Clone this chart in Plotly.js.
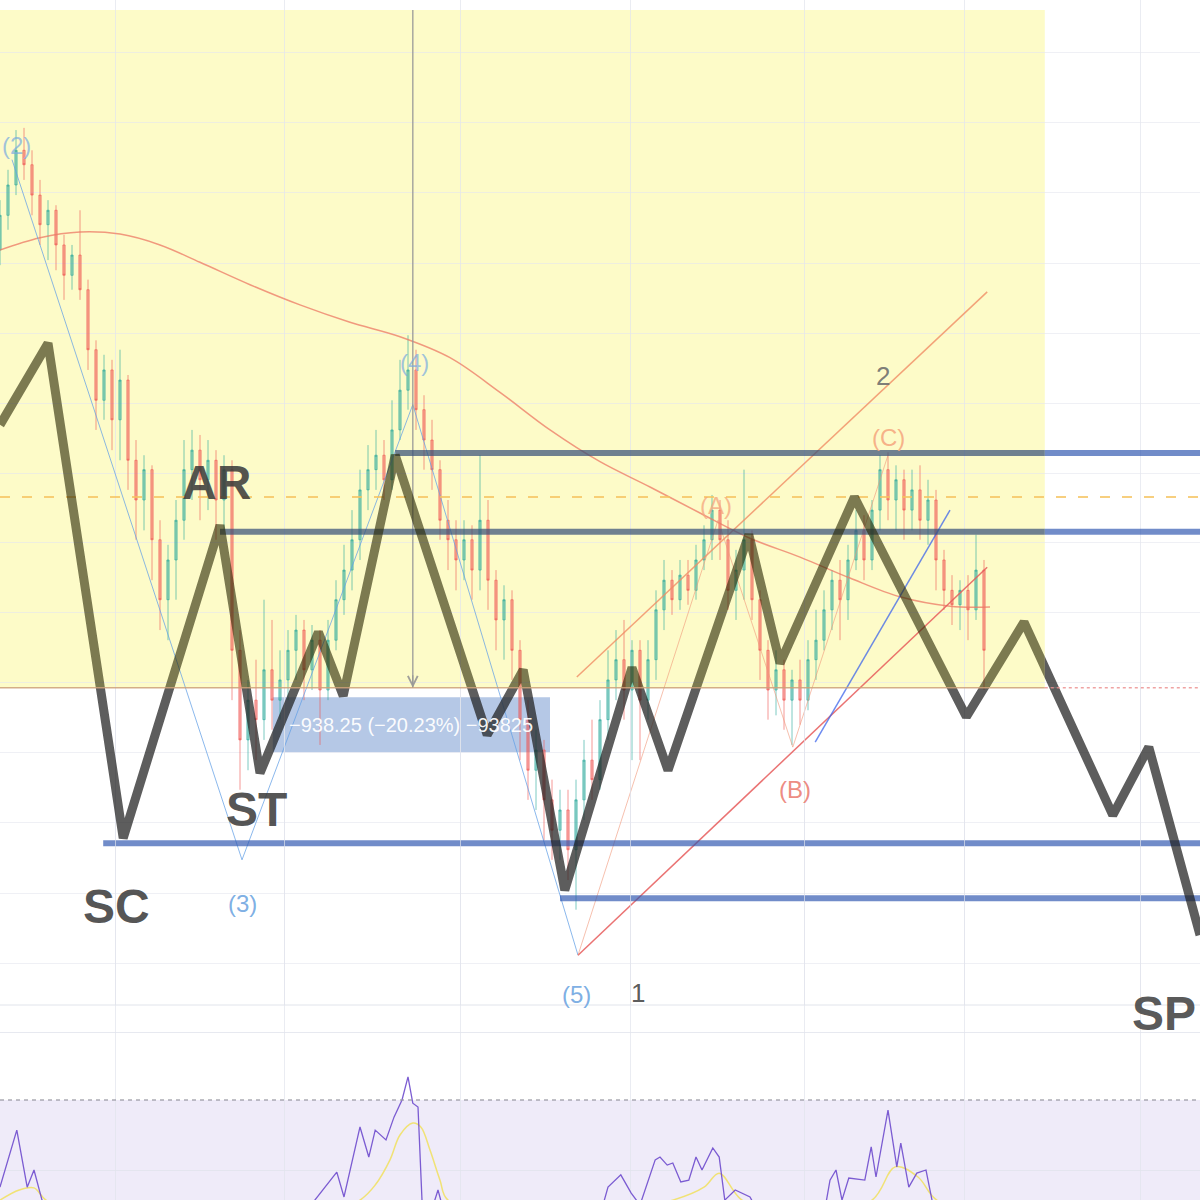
<!DOCTYPE html>
<html><head><meta charset="utf-8">
<script src="https://cdn.plot.ly/plotly-3.0.1.min.js"></script>
<style>html,body{margin:0;padding:0;background:#fff;}#chart{width:1200px;height:1200px;}</style>
</head><body><div id="chart"></div>
<script>
// ---------- price candles (bar index = position in arrays) ----------
const open = [4306,4354,4396,4444,4424,4382,4341,4361,4313,4271,
4299,4251,4168,4098,4140,4071,4126,4015,3960,4002,
3905,3822,3877,3932,4002,4029,3988,4015,3960,4002,
3752,3628,3683,3656,3725,3683,3711,3752,3780,3725,
3766,3697,3766,3822,3863,3905,3974,4002,4022,3988,
4057,4112,4140,4085,4043,4002,3932,3905,3877,3905,
3863,3932,3849,3794,3822,3752,3656,3586,3614,3545,
3503,3531,3476,3545,3600,3573,3656,3711,3739,3697,
3752,3683,3739,3808,3849,3822,3856,3835,3877,3905,
3946,3905,3835,3863,3905,3822,3752,3697,3725,3683,
3711,3683,3739,3766,3808,3849,3822,3877,3918,3877,
3946,4002,3960,3988,3946,3974,3932,3960,3877,3835,
3815,3835,3808,3863];
const high = [4375,4417,4472,4475,4444,4403,4375,4368,4327,4313,
4361,4265,4181,4161,4154,4168,4133,4043,4022,4008,
3932,3898,3960,4043,4057,4050,4043,4029,4022,4015,
3780,3711,3739,3822,3794,3752,3780,3801,3794,3787,
3780,3794,3849,3898,3946,4002,4036,4057,4043,4098,
4154,4188,4168,4105,4071,4015,3960,3932,3932,3925,
4022,3960,3863,3842,3835,3766,3683,3642,3628,3573,
3559,3559,3573,3628,3656,3683,3752,3780,3794,3766,
3766,3766,3835,3877,3863,3877,3877,3898,3925,3967,
3960,3932,3891,4002,3918,3835,3766,3752,3739,3725,
3739,3766,3808,3835,3863,3877,3898,3946,3939,3960,
4022,4026,4008,4002,4002,4008,3988,3974,3891,3856,
3849,3856,3912,3877];
const low = [4285,4334,4382,4403,4354,4313,4292,4278,4237,4251,
4237,4140,4057,4071,4029,4015,3974,3905,3918,3849,
3780,3766,3822,3905,3960,3932,3946,3905,3918,3683,
3559,3586,3600,3628,3642,3656,3683,3711,3683,3697,
3621,3683,3752,3801,3835,3877,3946,3974,3960,3974,
4043,4085,4057,4002,3974,3905,3863,3835,3849,3822,
3835,3808,3752,3739,3711,3600,3545,3531,3489,3462,
3462,3434,3393,3517,3545,3559,3628,3683,3656,3600,
3600,3656,3711,3780,3801,3808,3815,3822,3863,3877,
3877,3808,3794,3822,3794,3711,3656,3662,3642,3621,
3649,3669,3711,3752,3780,3766,3794,3863,3849,3863,
3918,3932,3918,3905,3918,3905,3898,3835,3808,3787,
3780,3766,3794,3697];
const close = [4354,4396,4444,4424,4382,4341,4361,4313,4271,4299,
4251,4168,4098,4140,4071,4126,4015,3960,4002,3905,
3822,3877,3932,4002,4029,3988,4015,3960,4002,3752,
3628,3683,3656,3725,3683,3711,3752,3780,3725,3766,
3697,3766,3822,3863,3905,3974,4002,4022,3988,4057,
4112,4140,4085,4043,4002,3932,3905,3877,3905,3863,
3932,3849,3794,3822,3752,3656,3586,3614,3545,3503,
3531,3476,3545,3600,3573,3656,3711,3739,3697,3752,
3683,3739,3808,3849,3822,3856,3835,3877,3905,3946,
3905,3835,3863,3905,3822,3752,3697,3725,3683,3711,
3683,3739,3766,3808,3849,3822,3877,3918,3877,3946,
4002,3960,3988,3946,3974,3932,3960,3877,3835,3815,
3835,3808,3863,3752];

// ---------- moving average ----------
const maX = [0,5,10,15,20,25,31.25,37.5,43.75,50,56.25,62.5,68.75,75,81.25,87.5,93.75,100,106.25,112.5,118.75,123.75];
const maY = [4306,4323,4331,4328,4313,4289,4258,4230,4206,4186,4157,4109,4057,4013,3978,3942,3907,3881,3852,3826,3813,3812];

// ---------- Wyckoff schematic zigzag ----------
const zigX = [0,6,15.4,27.5,32.5,39.8,42.9,49.4,60.9,65.4,70.6,79,83.5,93.6,97.5,106.8,120.8,128,139.1,143.6,150];
const zigY = [4064,4177,3492,3925,3582,3777,3689,4022,3635,3725,3420,3728,3586,3912,3734,3964,3660,3791,3524,3618,3358];

// ---------- horizontal levels ----------
const levelPrice = [4025,3916,3485,3409];
const levelStart = [49.4,27.5,12.9,70];
const dashedLevel = 3964;

// ---------- Elliott wave drawing ----------
const impulseX = [1.5,30.25,51.6,72.25];
const impulseY = [4431,3462,4092,3330];
const channelTopX = [72.1,123.4], channelTopY = [3715,4248];
const channelLowX = [72.25,123.4], channelLowY = [3330,3867];
const abcX = [72.25,89.75,99.1,111], abcY = [3330,3932,3618,4022];
const blueTrendX = [101.9,118.75], blueTrendY = [3625,3946];

// ---------- measurement box ----------
const boxStart = 0, boxEnd = 130.6;
const measTop = 4638, measBottom = 3700, measX = 51.6;
const measLabelX = [34.1,68.75], measLabelY = [3611,3687];
const measText = '\u2212938.25 (\u221220.23%) \u221293825';

// ---------- labels ----------
const wyckoffText = ['AR','ST','SC'];
const wyckoffX = [27.1,32.1,14.6];
const wyckoffY = [3984,3531,3397];
const waveText = ['(2)','(3)','(4)','(5)','1','2','(A)','(B)','(C)'];
const waveX = [2.1,30.25,51.75,72.1,79.75,110.4,89.5,99.4,111.1];
const waveY = [4451,3402,4151,3275,3278,4132,3953,3559,4047];

// ---------- RSI panel ----------
const rsiX = [0,2.1,3.4,4.25,5.25,10,25,37.5,42.1,43,45,46.1,46.9,48.25,49.25,50.25,51,51.6,52.25,52.75,53.75,54.75,55.6,62.5,72.5,75,76,77.6,78.9,80,81.9,82.5,83.4,84.1,85.1,86.1,87,87.75,89.1,89.9,90.6,91.9,93.75,95,98.75,103.1,103.75,104.5,105.25,106.1,108.1,108.9,109.5,111,112.1,112.6,113.6,114.6,115.75,116.5,117.5,125,137.5,150];
const rsiY = [45.1,61.4,45.1,50,41.4,35,33,36,49.4,42.3,62.3,53.7,61.4,58.6,65.1,70,76.6,69.1,68,41.4,37,44.3,37,35,34,37,45.1,48.6,43.4,40,52.9,53.7,51.4,52,46.6,47.1,53.7,50,56.3,53.7,41.4,44.3,42.3,37,35,38.6,47.1,50,41.4,47.7,47.1,56.6,48,67.1,50.9,57.7,45.1,49.1,50,41.4,37,35,34,35];
const rsiMaX = [0,2.4,4.25,5.75,12.5,37.5,45,46.9,48.75,50,51.6,52.6,53.75,55,56,68.75,84.1,88,89.9,92.75,100,109,111.9,114.75,117.1,125,150];
const rsiMaY = [41.4,44.3,44.9,41.4,35,34,41.4,45.7,52.9,60,63.4,62.3,55.7,47.1,41.4,35,41.4,45.1,49.1,41.4,36,41.4,50.9,48,41.4,36,35];
const rsiUpper = 70, rsiLower = 30;

// ---------- grid ----------
const xGrid = [14.4,35.6,57.5,78.75,100.6,120.6,142.5];
const yGrid = [4579,4482,4385,4288,4191,4094,3997,3901,3804,3707,3610,3513,3416,3319];
const rsiGrid = [89.4,50];

// ================= layout geometry =================
const X_RANGE = [0,150];
const Y_RANGE = [3261.1,4652];
const MAIN_DOM = [0.1625,1];
const yDom = p => MAIN_DOM[0] + (p - Y_RANGE[0]) / (Y_RANGE[1] - Y_RANGE[0]) * (MAIN_DOM[1] - MAIN_DOM[0]);
const xDom = v => (v - X_RANGE[0]) / (X_RANGE[1] - X_RANGE[0]);
const boxDomY = [yDom(measBottom), yDom(measTop)];
const boxDomX = [xDom(boxStart), xDom(boxEnd)];

// ================= build =================
const traces = [];
traces.push({
  type:'candlestick', x: open.map((_,i)=>i), open, high, low, close,
  xaxis:'x', yaxis:'y', whiskerwidth:0, hoverinfo:'skip', showlegend:false,
  increasing:{line:{color:'rgba(38,166,154,0.6)',width:1}, fillcolor:'rgba(38,166,154,0.5)'},
  decreasing:{line:{color:'rgba(239,83,80,0.6)',width:1}, fillcolor:'rgba(239,83,80,0.5)'}
});
function line(x,y,color,width,extra,xa,ya){
  return Object.assign({type:'scatter',mode:'lines',x,y,xaxis:xa||'x',yaxis:ya||'y',hoverinfo:'skip',showlegend:false,
    line:{color,width}}, extra||{});
}
traces.push(line(maX,maY,null,0,{line:{color:'rgba(236,120,100,0.75)',width:1.5,shape:'spline'}}));
traces.push(line(impulseX,impulseY,'rgba(100,160,230,0.75)',1));
traces.push(line(channelTopX,channelTopY,'rgba(240,140,100,0.8)',1.5));
traces.push(line(channelLowX,channelLowY,'rgba(230,90,90,0.85)',1.5));
traces.push(line(abcX,abcY,'rgba(240,150,120,0.6)',1));
traces.push(line(blueTrendX,blueTrendY,'rgba(60,100,235,0.75)',1.5));
// measurement vertical line
traces.push(line([measX,measX],[measTop,measBottom],'rgba(150,150,150,0.85)',1.5));
// zigzag: olive inside the highlighted box, gray outside (same data, clipped by sub-areas)
traces.push(line(zigX,zigY,'rgba(38,36,0,0.6)',9,null,'x2','y3'));
traces.push(line(zigX,zigY,'rgba(30,30,30,0.72)',9,null,'x','y4'));
traces.push(line(zigX,zigY,'rgba(30,30,30,0.72)',9,null,'x3','y5'));
// dashed level
traces.push(line([0,150],[dashedLevel,dashedLevel],null,0,{line:{color:'rgba(245,195,95,0.8)',width:2,dash:'10px,12px'}}));
// blue levels
levelPrice.forEach((p,i)=>{
  if (p >= measBottom && p <= measTop) {
    traces.push(line([levelStart[i],boxEnd],[p,p],'rgba(55,80,120,0.72)',6));
    traces.push(line([boxEnd,150],[p,p],'rgba(45,85,175,0.68)',6));
  } else {
    traces.push(line([levelStart[i],150],[p,p],'rgba(45,85,175,0.68)',6));
  }
});
// RSI
traces.push({type:'scatter',mode:'lines',x:rsiMaX,y:rsiMaY,xaxis:'x',yaxis:'y2',hoverinfo:'skip',showlegend:false,
  line:{color:'rgba(240,225,110,0.95)',width:1.5,shape:'spline'}});
traces.push({type:'scatter',mode:'lines',x:rsiX,y:rsiY,xaxis:'x',yaxis:'y2',hoverinfo:'skip',showlegend:false,
  line:{color:'rgba(110,75,205,0.9)',width:1.3}});

const shapes = [
  {type:'rect',xref:'x',yref:'y',x0:boxStart,x1:boxEnd,y0:measBottom,y1:measTop,fillcolor:'rgb(253,251,200)',line:{width:0},layer:'below'},
  {type:'line',xref:'x',yref:'y',x0:boxStart,x1:boxEnd,y0:measBottom,y1:measBottom,line:{color:'rgba(205,160,120,0.85)',width:1.5}},
  {type:'line',xref:'x',yref:'y',x0:boxEnd,x1:150,y0:measBottom,y1:measBottom,line:{color:'rgba(235,140,140,0.8)',width:1.5,dash:'dot'}},
  {type:'rect',xref:'x',yref:'y',x0:measLabelX[0],x1:measLabelX[1],y0:measLabelY[0],y1:measLabelY[1],fillcolor:'rgba(120,155,210,0.55)',line:{width:0},layer:'below'},
  {type:'rect',xref:'paper',yref:'y2',x0:0,x1:1,y0:rsiLower,y1:rsiUpper,fillcolor:'rgb(239,235,249)',line:{width:0},layer:'below'},
  {type:'line',xref:'paper',yref:'y2',x0:0,x1:1,y0:rsiUpper,y1:rsiUpper,line:{color:'rgba(150,150,160,0.8)',width:1.5,dash:'4px,4px'}},
  {type:'line',xref:'paper',yref:'paper',x0:0,x1:1,y0:MAIN_DOM[0],y1:MAIN_DOM[0],line:{color:'rgba(225,228,235,1)',width:1}}
];

const annotations = [];
wyckoffText.forEach((t,i)=>annotations.push({x:wyckoffX[i],y:wyckoffY[i],xref:'x',yref:'y',text:'<b>'+t+'</b>',showarrow:false,
  xanchor:'center',yanchor:'middle',font:{family:'Liberation Sans, Arial, sans-serif',size:48,color:'rgba(55,55,55,0.85)'}}));
annotations.push({x:0.998,y:0.1558,xref:'paper',yref:'paper',text:'<b>SP</b>',showarrow:false,xanchor:'right',yanchor:'middle',
  font:{family:'Liberation Sans, Arial, sans-serif',size:48,color:'rgba(60,60,60,0.85)'}});
const waveColor = {'(2)':'rgba(120,170,225,0.7)','(3)':'rgba(110,165,225,0.9)','(4)':'rgba(120,170,225,0.7)','(5)':'rgba(110,165,225,0.9)',
  '1':'rgba(70,70,70,0.9)','2':'rgba(110,110,110,0.9)','(A)':'rgba(245,165,125,0.75)','(B)':'rgba(235,125,115,0.9)','(C)':'rgba(245,165,125,0.85)'};
waveText.forEach((t,i)=>annotations.push({x:waveX[i],y:waveY[i],xref:'x',yref:'y',text:t,showarrow:false,xanchor:'center',yanchor:'middle',
  font:{family:'Liberation Sans, Arial, sans-serif',size:t.length===1?26:24,color:waveColor[t]}}));
annotations.push({x:measLabelX[0],y:(measLabelY[0]+measLabelY[1])/2,xref:'x',yref:'y',text:measText,showarrow:false,
  xanchor:'left',yanchor:'middle',xshift:14,font:{family:'Liberation Sans, Arial, sans-serif',size:20,color:'rgba(255,255,255,0.95)'}});
annotations.push({x:measX,y:measBottom,xref:'x',yref:'y',ax:0,ay:-14,text:'',showarrow:true,arrowhead:5,arrowsize:1.6,
  arrowwidth:1.2,arrowcolor:'rgba(150,150,150,0.9)'});

const hidden = {visible:false,fixedrange:true,showgrid:false,zeroline:false};
const layout = {
  width:1200,height:1200,margin:{l:0,r:0,t:0,b:0},boxgap:0.6,
  paper_bgcolor:'#ffffff',plot_bgcolor:'rgba(0,0,0,0)',showlegend:false,
  xaxis:{range:X_RANGE,domain:[0,1],showticklabels:false,ticks:'',tickvals:xGrid,showgrid:true,gridcolor:'rgba(225,228,236,0.7)',gridwidth:1,
    zeroline:false,showline:false,rangeslider:{visible:false},fixedrange:true,anchor:'y'},
  yaxis:{domain:MAIN_DOM,range:Y_RANGE,showticklabels:false,ticks:'',tickvals:yGrid,showgrid:true,gridcolor:'rgba(228,230,238,0.6)',
    zeroline:false,showline:false,fixedrange:true,anchor:'x'},
  yaxis2:{domain:[0,MAIN_DOM[0]],range:[41.43,97.14],showticklabels:false,ticks:'',tickvals:rsiGrid,showgrid:true,gridcolor:'rgba(225,228,236,0.8)',
    zeroline:false,showline:false,fixedrange:true,anchor:'x'},
  // clipping areas for the zigzag
  xaxis2:Object.assign({domain:boxDomX,range:[boxStart,boxEnd],anchor:'y3'},hidden),
  yaxis3:Object.assign({domain:boxDomY,range:[measBottom,measTop],anchor:'x2'},hidden),
  yaxis4:Object.assign({domain:[MAIN_DOM[0],boxDomY[0]],range:[Y_RANGE[0],measBottom],anchor:'x'},hidden),
  xaxis3:Object.assign({domain:[boxDomX[1],1],range:[boxEnd,X_RANGE[1]],anchor:'y5'},hidden),
  yaxis5:Object.assign({domain:[boxDomY[0],1],range:[measBottom,Y_RANGE[1]],anchor:'x3'},hidden),
  shapes, annotations
};
Plotly.newPlot('chart',traces,layout,{staticPlot:true,displayModeBar:false});
</script></body></html>
